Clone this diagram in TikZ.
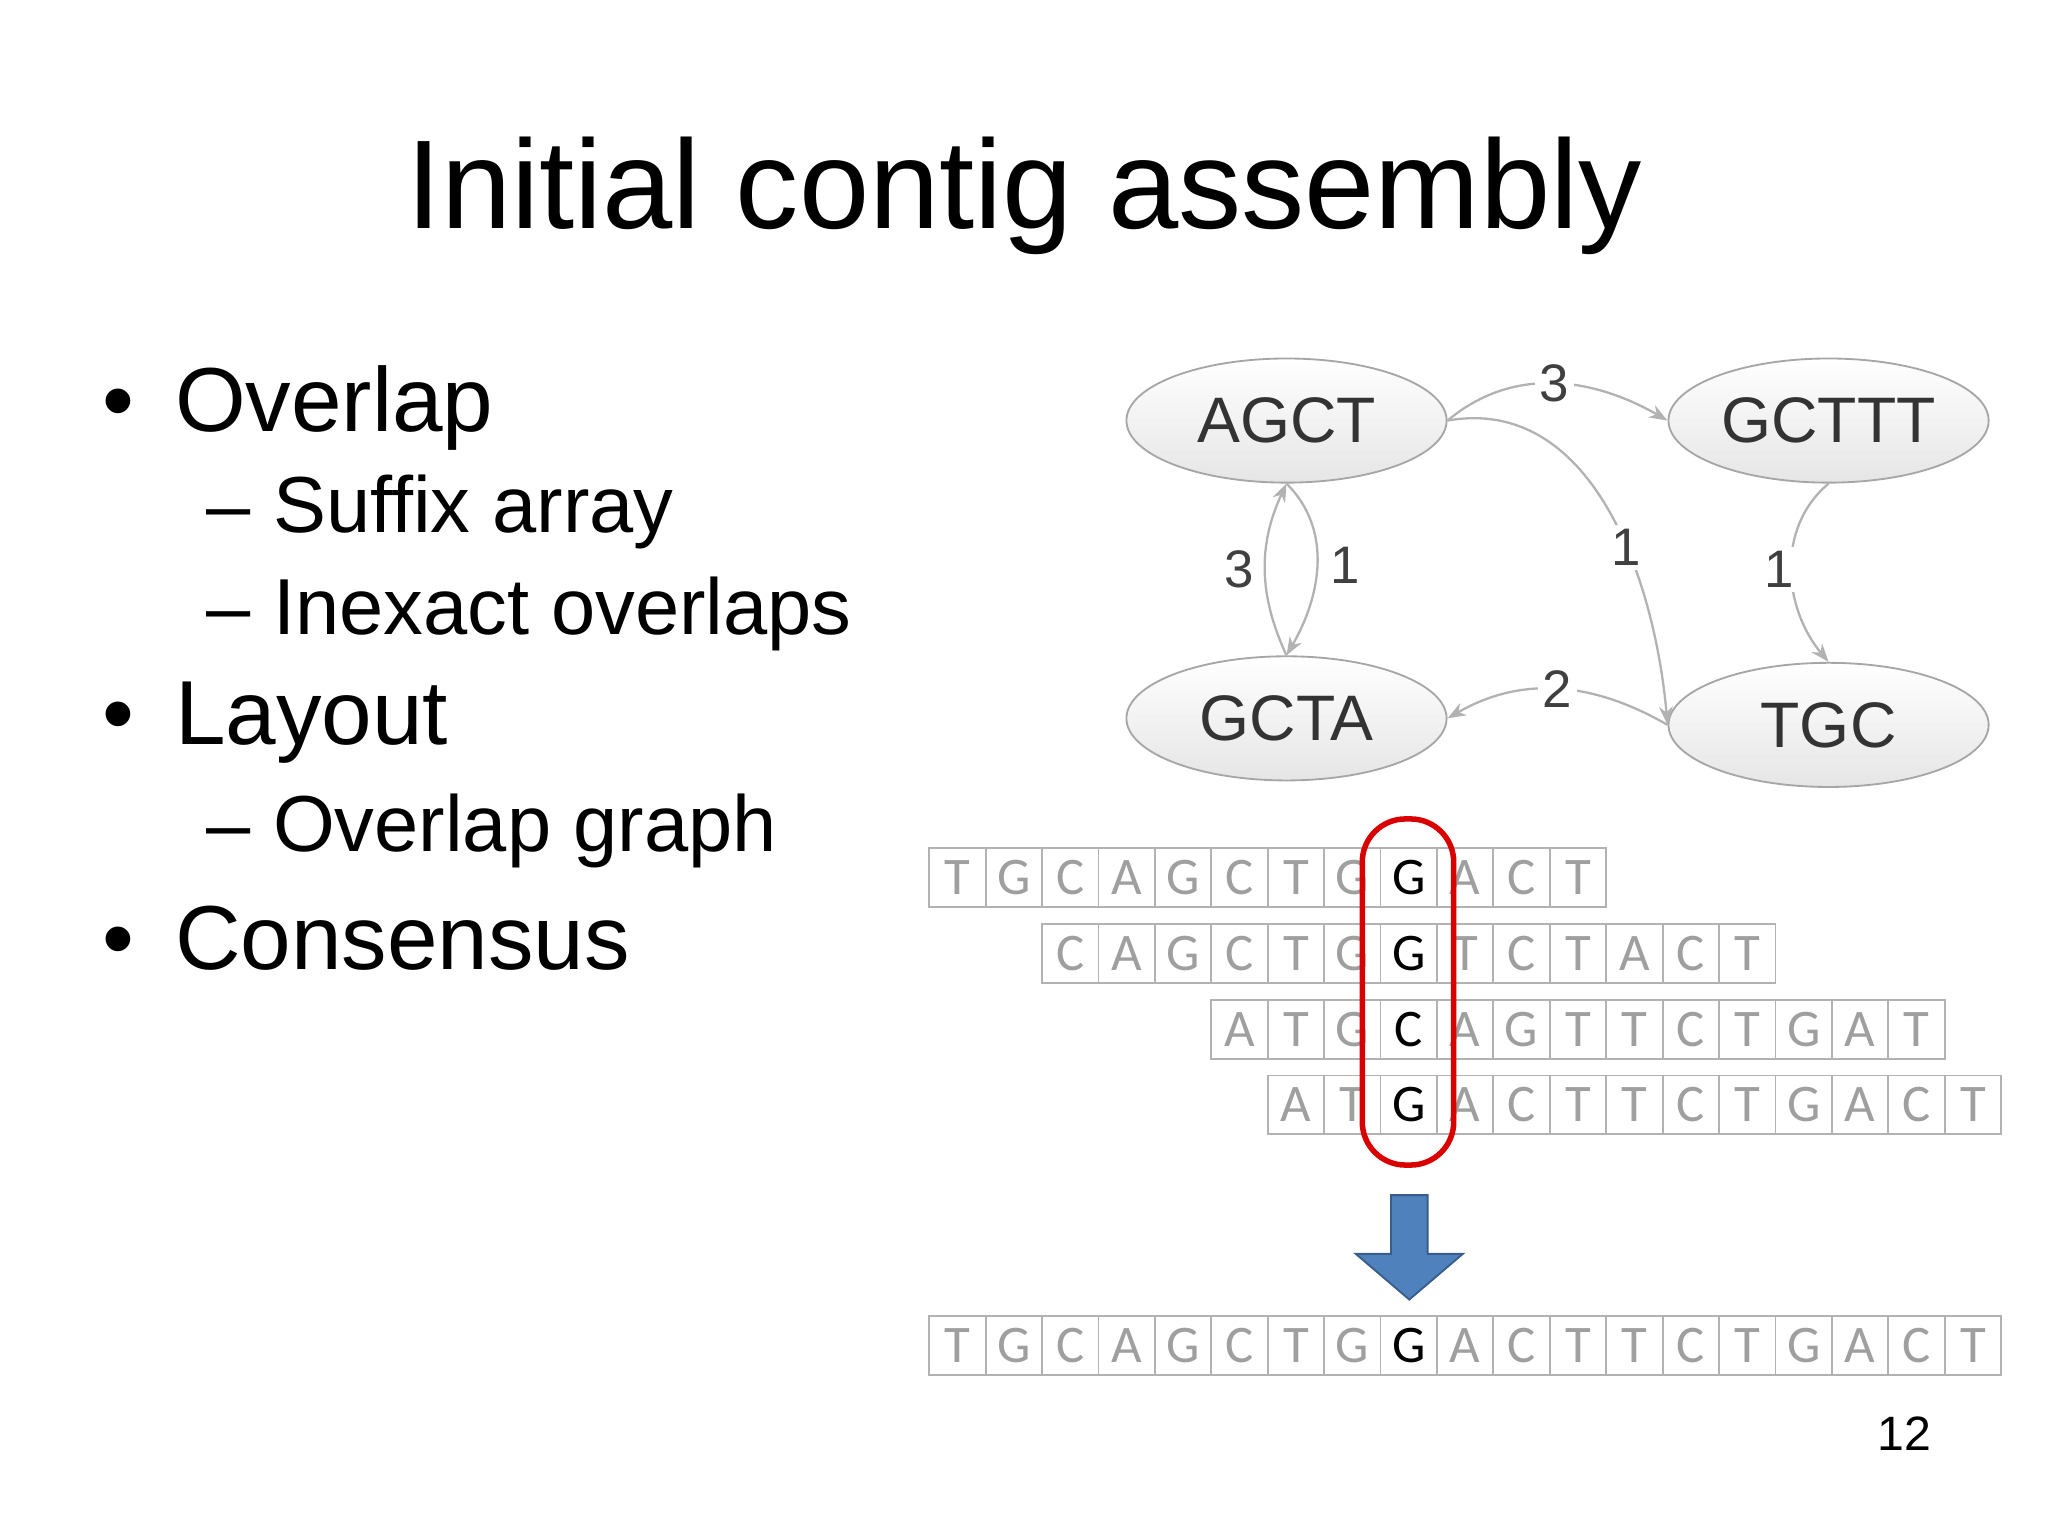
\documentclass[tikz,border=0pt]{standalone}
\usepackage{fontspec}
\setmainfont{Liberation Sans}
\newfontfamily\seqf{Carlito}
\usetikzlibrary{shapes.geometric,arrows.meta}
\begin{document}
\begin{tikzpicture}[x=0.01cm,y=-0.01cm,
  nd/.style={ellipse,draw=gray!70,minimum width=2.45cm,minimum height=0.95cm,inner sep=0pt,top color=white,bottom color=gray!20,font=\fontsize{14}{14}\selectfont,text=black!80},
  ed/.style={draw=gray!60,line width=0.5pt,-{Stealth[length=4pt]}},
  lb/.style={font=\fontsize{11.5}{11.5}\selectfont,text=black!75,fill=white,inner sep=1pt},
  bx/.style={draw=gray!60,minimum width=0.432cm,minimum height=0.45cm,inner sep=0,fill=white,font=\seqf\fontsize{11.5}{11.5}\selectfont,text=gray!75},
  hb/.style={bx,text=black}]
\useasboundingbox (0,0) rectangle (1568,1176);
\node[font=\fontsize{27.5}{27.5}\selectfont] (title) at (784,150) {Initial contig assembly};
\node[anchor=west,font=\fontsize{19.8}{19.8}\selectfont] (b1) at (66,312) {\textbullet\hspace{0.45em}Overlap};
\node[anchor=west,font=\fontsize{17.3}{17.3}\selectfont] (s1) at (146,392) {– Suffix array};
\node[anchor=west,font=\fontsize{17.3}{17.3}\selectfont] (s2) at (146,470) {– Inexact overlaps};
\node[anchor=west,font=\fontsize{19.8}{19.8}\selectfont] (b2) at (66,553) {\textbullet\hspace{0.45em}Layout};
\node[anchor=west,font=\fontsize{17.3}{17.3}\selectfont] (s3) at (146,636) {– Overlap graph};
\node[anchor=west,font=\fontsize{19.8}{19.8}\selectfont] (b3) at (66,718) {\textbullet\hspace{0.45em}Consensus};
\node[font=\fontsize{10.5}{10.5}\selectfont] (pg) at (1458,1098) {12};
% graph
\node[nd] (A) at (985,322) {AGCT};
\node[nd] (B) at (1400,322) {GCTTT};
\node[nd] (C) at (985,550) {GCTA};
\node[nd] (D) at (1400,555) {TGC};
\draw[ed] (A.east) to[out=40,in=150] node[lb,pos=0.5]{3} (B.west);
\draw[ed] (A.east) to[out=10,in=95] node[lb,pos=0.6]{1} (D.west);
\draw[ed] (B.south) to[out=220,in=130] node[lb,pos=0.5,xshift=-0.1cm]{1} (D.north);
\draw[ed] (D.west) to[out=150,in=30] node[lb,pos=0.5]{2} (C.east);
\draw[ed] (C.north) to[out=115,in=245] node[lb,pos=0.5,xshift=-0.2cm]{3} (A.south);
\draw[ed] (A.south) to[out=-45,in=60] node[lb,pos=0.5,xshift=0.22cm]{1} (C.north);
% sequences
\foreach \s [count=\i from 0] in {T,G,C,A,G,C,T,G,G,A,C,T}{
  \ifnum\i=8 \node[hb] (ra\i) at (733+43.2*\i,672) {\s}; \else \node[bx] (ra\i) at (733+43.2*\i,672) {\s}; \fi}
\foreach \s [count=\i from 2] in {C,A,G,C,T,G,G,T,C,T,A,C,T}{
  \ifnum\i=8 \node[hb] (rb\i) at (733+43.2*\i,730) {\s}; \else \node[bx] (rb\i) at (733+43.2*\i,730) {\s}; \fi}
\foreach \s [count=\i from 5] in {A,T,G,C,A,G,T,T,C,T,G,A,T}{
  \ifnum\i=8 \node[hb] (rc\i) at (733+43.2*\i,788) {\s}; \else \node[bx] (rc\i) at (733+43.2*\i,788) {\s}; \fi}
\foreach \s [count=\i from 6] in {A,T,G,A,C,T,T,C,T,G,A,C,T}{
  \ifnum\i=8 \node[hb] (rd\i) at (733+43.2*\i,846) {\s}; \else \node[bx] (rd\i) at (733+43.2*\i,846) {\s}; \fi}
\foreach \s [count=\i from 0] in {T,G,C,A,G,C,T,G,G,A,C,T,T,C,T,G,A,C,T}{
  \ifnum\i=8 \node[hb] (re\i) at (733+43.2*\i,1030) {\s}; \else \node[bx] (re\i) at (733+43.2*\i,1030) {\s}; \fi}
\draw[red!85!black,line width=1.2pt,rounded corners=0.33cm] (1043,627) rectangle (1113,892);
\fill[fill={rgb,255:red,79;green,129;blue,189},draw={rgb,255:red,56;green,93;blue,138}]
 (1065,915) -- (1093,915) -- (1093,960) -- (1120,960) -- (1079,995) -- (1038,960) -- (1065,960) -- cycle;
\end{tikzpicture}
\end{document}
